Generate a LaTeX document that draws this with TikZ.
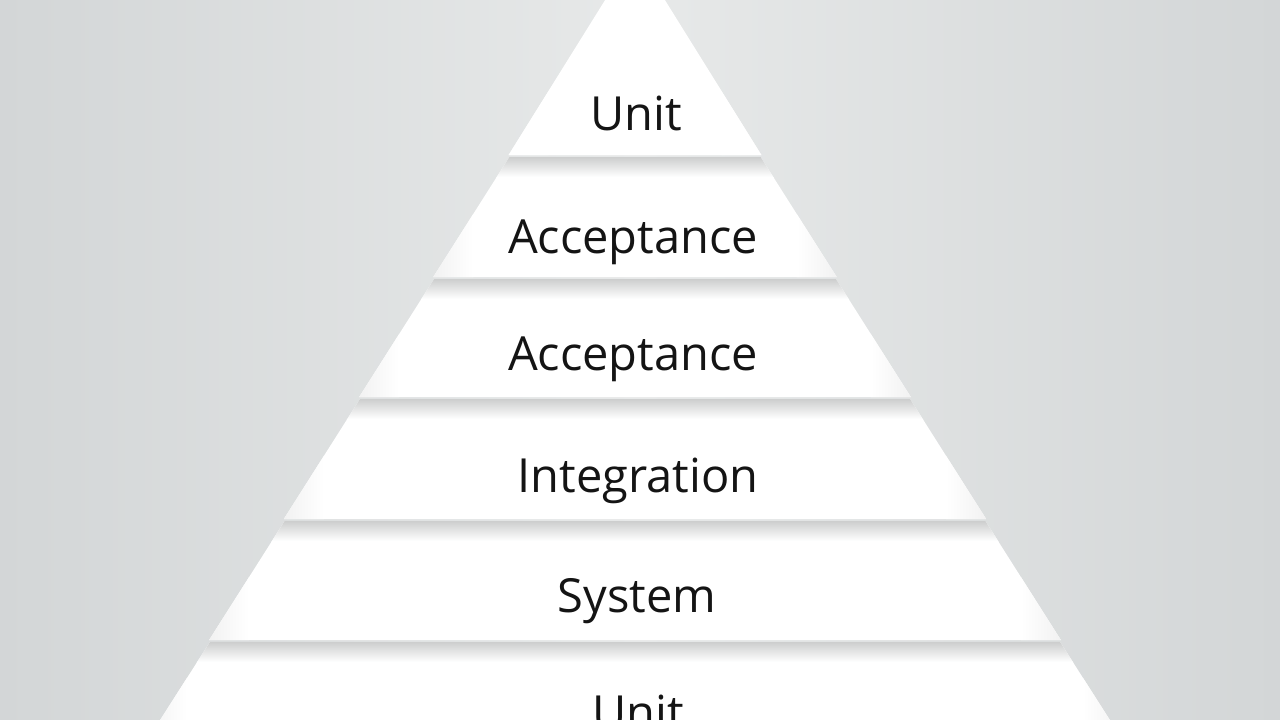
\documentclass[tikz,border=0pt]{standalone}
\usepackage{fontspec}
\setmainfont{Open Sans}
\definecolor{bgE}{RGB}{211,214,215}
\definecolor{bgC}{RGB}{231,233,233}
\definecolor{shadowc}{RGB}{205,206,206}
\definecolor{edgec}{RGB}{240,240,240}
\definecolor{txt}{RGB}{20,20,20}
\tikzset{
  layer/.style={fill=white, draw=none},
  lbl/.style={anchor=base, text=txt, font=\fontsize{47}{56}\selectfont, inner sep=0pt},
}
% half width of pyramid at pixel row y: 0.6175*(y+48)
\newcommand{\hwAt}[1]{0.6175*(#1+48)}
\begin{document}
\begin{tikzpicture}[x=1pt,y=-1pt]
\useasboundingbox (0,0) rectangle (1280,720);
\clip (0,0) rectangle (1280,720);
% background
\shade[left color=bgE, right color=bgE, middle color=bgC] (0,0) rectangle (1280,720);
% layers
\foreach \yt/\yb in {-48/155, 157/277, 279/397, 399/519, 521/640, 642/740}{
  \pgfmathsetmacro{\myHT}{\hwAt{\yt}-1}
  \pgfmathsetmacro{\myHB}{\hwAt{\yb}+1}
  \pgfmathsetmacro{\myYS}{\yt+20}
  \fill[layer] ({635-\myHT},\yt) -- ({635+\myHT},\yt) -- ({635+\myHB},\yb) -- ({635-\myHB},\yb) -- cycle;
  \begin{scope}
    \clip ({635-\myHT},\yt) -- ({635+\myHT},\yt) -- ({635+\myHB},\yb) -- ({635-\myHB},\yb) -- cycle;
    \shade[top color=shadowc, bottom color=white] (0,\yt) rectangle (1280,\myYS);
    \shade[left color=edgec, right color=white] ({635-\myHB-5},\yt) rectangle ({635-\myHB+40},\yb);
    \shade[left color=white, right color=edgec] ({635+\myHB-40},\yt) rectangle ({635+\myHB+5},\yb);
  \end{scope}
}
% apex layer: re-fill the top without shadow
\pgfmathsetmacro{\myHA}{\hwAt{155}+1}
\fill[layer] (635,-48) -- ({635+\myHA},155) -- ({635-\myHA},155) -- cycle;
% labels
\node[lbl] (l1) at (636,130) {Unit};
\node[lbl] (l2) at (633,253) {Acceptance};
\node[lbl] (l3) at (633,370) {Acceptance};
\node[lbl] (l4) at (638,492) {Integration};
\node[lbl] (l5) at (637,612) {System};
\node[lbl] (l6) at (638,729) {Unit};
\end{tikzpicture}
\end{document}
